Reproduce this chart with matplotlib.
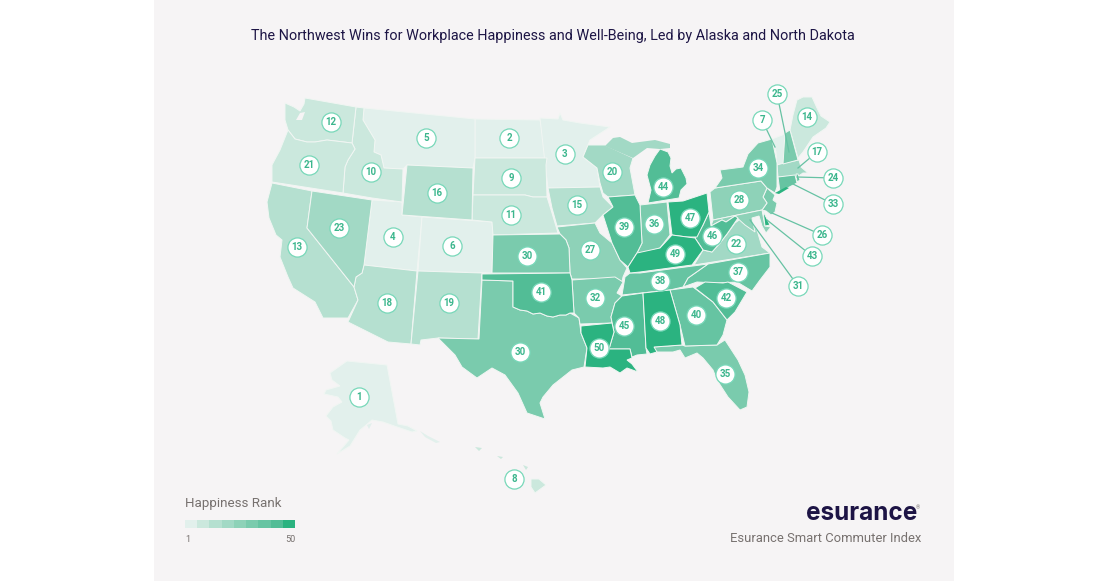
import matplotlib
matplotlib.use("Agg")
import matplotlib.pyplot as plt
from matplotlib.patches import Rectangle, Polygon

plt.rcParams['font.family'] = ['Roboto', 'DejaVu Sans']

TITLE = "The Northwest Wins for Workplace Happiness and Well-Being, Led by Alaska and North Dakota"
states = ["AK","ND","MN","UT","MT","CO","VT","HI","SD","ID","NE","WA","CA","ME","IA","WY","MA","AZ","NM","WI","OR","VA","NV","RI","NH","NJ","MO","PA","KS","TX","MD","AR","CT","NY","FL","IN","NC","TN","IL","GA","OK","SC","DE","MI","MS","WV","OH","AL","KY","LA"]
ranks  = [1,2,3,4,5,6,7,8,9,10,11,12,13,14,15,16,17,18,19,20,21,22,23,24,25,26,27,28,30,30,31,32,33,34,35,36,37,38,39,40,41,42,43,44,45,46,47,48,49,50]
levels = [0,0,0,0,0,0,0,1,1,1,1,1,2,1,2,2,3,2,2,3,1,3,3,6,5,5,4,4,5,5,4,5,6,5,5,5,6,6,7,6,7,7,8,7,7,7,8,8,8,8]
scale_colors = ["#e2f0ec","#cbe8dd","#b5e0d0","#a2d9c5","#8ed2b8","#7acbad","#66c4a2","#52bd96","#2bb380"]
PANEL = "#f6f4f5"

red_river = [(513,307),(520,310),(527,311),(533,314),(540,313),(547,316),(553,317),(560,315),(566,315),(570,313)]
outlines = {
"WA":[(285,103),(294,107),(300,111),(304,104),(305,98),(356,107),(352,143),(327,140),(315,142),(307,142),(295,139),(288,130),(285,120)],
"OR":[(288,130),(295,139),(307,142),(315,142),(327,140),(352,143),(355,149),(348,160),(345,167),(343,193),(272,182),(272,165),(280,150)],
"ID":[(356,107),(364,108),(363,120),(375,140),(374,152),(381,155),(384,168),(403,169),(402,202),(372,198),(343,193),(345,167),(348,160),(355,149),(352,143)],
"MT":[(364,108),(475,119),(475,158),(473,168),(407,165),(403,169),(384,168),(381,155),(374,152),(375,140),(363,120)],
"WY":[(407,165),(473,168),(472,220),(402,215)],
"ND":[(475,119),(540,120),(547,158),(475,158)],
"SD":[(475,158),(547,158),(546,165),(547,197),(533,197),(525,195),(473,195)],
"NE":[(473,195),(525,195),(533,197),(547,197),(552,213),(558,233),(493,235),(492,222),(472,220)],
"UT":[(372,200),(402,202),(402,215),(422,217),(417,271),(364,265)],
"CO":[(422,217),(492,222),(493,235),(492,273),(418,271)],
"NV":[(312,191),(372,200),(364,265),(362,273),(356,277),(354,287),(307,228)],
"CA":[(272,183),(312,191),(307,228),(354,287),(358,300),(348,318),(323,318),(315,302),(293,288),(288,277),(280,257),(282,240),(276,235),(269,218),(267,202)],
"AZ":[(364,265),(417,271),(411,344),(388,342),(348,322),(358,300),(354,287),(356,277),(362,273)],
"NM":[(418,271),(482,273),(478,339),(438,338),(421,340),(420,345),(411,344)],
"TX":[(482,280),(513,281)]+red_river+[(579,318),(581,333),(587,348),(584,367),(572,370),(553,385),(543,397),(540,403),(545,419),(527,413),(518,393),(505,375),(492,368),(477,378),(462,367),(455,355),(438,338),(479,339)],
"OK":[(482,274),(570,273),(572,280),(574,313)]+red_river[::-1]+[(513,281),(482,280)],
"KS":[(493,235),(560,234),(566,240),(569,248),(570,273),(492,273)],
"MO":[(557,227),(595,223),(600,233),(612,243),(620,260),(627,268),(623,277),(622,282),(617,279),(572,279),(570,273),(569,248),(566,240),(560,234)],
"IA":[(548,188),(600,187),(603,197),(613,207),(603,215),(595,223),(557,226),(552,208)],
"MN":[(540,118),(558,119),(560,113),(563,120),(580,123),(610,127),(590,140),(583,157),(597,168),(600,187),(548,188),(545,163)],
"WI":[(583,157),(588,145),(605,145),(633,158),(630,168),(635,195),(608,197),(603,193),(600,183),(597,168)],
"MI":[(660,149),(668,152),(671,158),(670,166),(672,173),(676,169),(681,168),(686,178),(687,184),(681,190),(679,198),(648,203),(651,190),(647,175),(650,165),(655,156)],
"IL":[(608,197),(635,195),(640,205),(642,243),(637,253),(628,267),(620,260),(612,243),(603,215),(613,207)],
"IN":[(640,205),(667,202),(670,235),(660,248),(640,254),(637,253),(642,243)],
"OH":[(668,202),(683,201),(707,193),(709,212),(703,225),(697,237),(687,237),(672,235)],
"KY":[(672,235),(687,237),(695,238),(703,250),(692,265),(640,272),(630,273),(628,267),(637,253),(660,248)],
"WV":[(709,212),(711,226),(722,220),(726,222),(735,216),(738,218),(727,234),(720,243),(712,252),(703,250),(695,238),(703,225)],
"PA":[(710,192),(715,188),(761,181),(767,188),(763,197),(767,203),(762,210),(713,220)],
"NY":[(715,188),(722,178),(720,170),(743,167),(748,154),(758,143),(772,139),(777,163),(777,187),(775,193),(767,188),(761,181)],
"VT":[(772,139),(785,134),(784,163),(777,165),(776,152)],
"NH":[(785,133),(790,130),(798,160),(783,164)],
"ME":[(790,130),(793,115),(797,100),(803,97),(812,97),(817,108),(821,116),(830,122),(826,128),(813,137),(803,152),(798,158)],
"MA":[(777,165),(784,163),(799,160),(801,167),(808,173),(803,173),(797,177),(778,177)],
"CT":[(778,177),(795,175),(797,183),(780,192)],
"RI":[(796,174),(798,174),(800,180),(797,182)],
"NJ":[(767,188),(775,195),(773,200),(777,203),(775,212),(771,215),(766,211),(762,210),(767,203),(763,197)],
"DE":[(763,211),(766,217),(770,225),(765,226)],
"MD":[(713,220),(762,210),(765,226),(771,227),(766,233),(762,226),(759,216),(752,218),(755,232),(745,225),(735,216),(726,222),(722,220),(711,226)],
"VA":[(694,265),(770,253),(762,247),(757,230),(750,220),(743,217),(735,223),(727,234),(720,243),(712,252),(703,250)],
"NC":[(708,264),(770,253),(770,267),(760,280),(752,291),(737,282),(717,283),(697,282),(683,287),(688,278)],
"TN":[(640,273),(708,264),(688,278),(683,287),(670,290),(622,295),(625,277),(630,273)],
"SC":[(695,288),(705,282),(723,283),(728,282),(747,292),(735,312),(727,320),(713,302)],
"GA":[(670,290),(693,287),(713,302),(727,320),(723,335),(717,345),(685,346),(680,325)],
"FL":[(654,347),(682,345),(685,346),(717,345),(725,340),(738,360),(745,375),(749,392),(747,407),(740,410),(728,397),(717,380),(713,370),(703,358),(697,353),(685,358),(680,350),(673,352),(657,352),(648,353)],
"AL":[(643,293),(670,290),(680,325),(682,345),(654,347),(657,352),(650,354),(646,348)],
"MS":[(622,296),(643,293),(646,348),(647,354),(637,355),(632,357),(630,349),(609,349),(614,332),(611,317),(615,303)],
"LA":[(581,326),(612,323),(614,332),(609,349),(630,349),(632,358),(627,360),(632,364),(638,372),(627,368),(620,373),(610,367),(603,368),(585,367),(587,348),(581,333)],
"AR":[(572,280),(615,277),(623,282),(617,293),(622,296),(615,303),(611,317),(612,323),(580,324),(579,318),(574,313)],
"AK":[(347,361),(387,365),(398,424),(408,426),(417,431),(412,432),(400,428),(383,422),(372,420),(365,426),(360,430),(350,446),(337,454),(349,440),(345,438),(333,430),(331,421),(326,416),(333,407),(342,402),(338,397),(324,394),(326,390),(340,386),(332,380),(330,373)],
"HI":[(531,479),(539,479),(546,485),(535,493),(531,487)],
}
# Extra parts drawn in the shade the picture gives them.
extra_parts = [
    ([(605,146),(613,138),(620,137),(632,143),(655,140),(670,144),(670,148),(660,149),(647,148),(633,158)], 3),
    ([(775,193),(786,187),(789,188),(779,194)], 8),
    ([(367,425),(372,423),(369,429)], 0),
    ([(420,431),(428,436),(440,442),(436,443),(425,437)], 0),
    ([(523,465),(528,467),(526,470)], 1),
    ([(497,456),(503,457),(501,459)], 1),
    ([(475,447),(482,448),(479,451)], 1),
]
puget = [(300,113),(305,112),(302,120),(296,120)]

label_pos = {"AK":(359,397),"ND":(509,138),"MN":(565,154),"UT":(393,237),"MT":(426,138),"CO":(452,246),"VT":(762,120),"HI":(514,479),"SD":(511,178),"ID":(371,172),"NE":(511,215),"WA":(331,122),"CA":(297,247),"ME":(807,117),"IA":(577,205),"WY":(437,193),"MA":(817,152),"AZ":(387,303),"NM":(449,303),"WI":(612,172),"OR":(309,165),"VA":(736,244),"NV":(339,228),"RI":(833,178),"NH":(777,94),"NJ":(822,235),"MO":(590,250),"PA":(739,200),"KS":(527,256),"TX":(520,352),"MD":(798,286),"AR":(595,298),"CT":(833,204),"NY":(758,168),"FL":(725,374),"IN":(654,224),"NC":(738,272),"TN":(660,281),"IL":(624,227),"GA":(696,315),"OK":(541,292),"SC":(726,298),"DE":(812,256),"MI":(663,187),"MS":(624,326),"WV":(712,236),"OH":(690,218),"AL":(660,321),"KY":(675,254),"LA":(599,348)}
leader_end = {"VT":(775,147),"MA":(798,168),"RI":(797,177),"NH":(789,152),"NJ":(772,213),"MD":(750,220),"CT":(785,180),"DE":(767,220)}

fig = plt.figure(figsize=(11.08,5.81), dpi=100, facecolor="white")
ax = fig.add_axes([0,0,1,1])
ax.set_xlim(0,1108); ax.set_ylim(581,0); ax.axis("off")
ax.add_patch(Rectangle((154,0),800,581,fc=PANEL,ec="none",zorder=0))

shade = dict(zip(states, levels))
for st in states:
    ax.add_patch(Polygon(outlines[st], closed=True, fc=scale_colors[shade[st]], ec="#f1f6f3", lw=0.7, zorder=2))
for pts, lev in extra_parts:
    ax.add_patch(Polygon(pts, closed=True, fc=scale_colors[lev], ec="none", zorder=2))
ax.add_patch(Polygon(puget, closed=True, fc=PANEL, ec="none", zorder=2.5))

for st, end in leader_end.items():
    x0,y0 = label_pos[st]
    ax.plot([x0,end[0]],[y0,end[1]], color="#66c2a3", lw=0.9, zorder=3)
for st, r in zip(states, ranks):
    x,y = label_pos[st]
    ax.scatter([x],[y], s=190, fc="white", ec="#78d8b9", lw=0.9, zorder=4)
    ax.text(x,y+0.3,str(r), ha="center", va="center", fontsize=7, fontweight="bold", color="#3cb68d", zorder=5)

ax.text(553,36,TITLE,ha="center",va="center",fontsize=10.36,color="#1d1545")
ax.text(185,503.5,"Happiness Rank",ha="left",va="center",fontsize=9.6,color="#77716f")
bw = 110/len(scale_colors)
for i,c in enumerate(scale_colors):
    ax.add_patch(Rectangle((185+i*bw,520),bw,8,fc=c,ec="none",zorder=2))
ax.text(185,540,"1",ha="left",va="center",fontsize=6.6,color="#77716f")
ax.text(296,540,"50",ha="right",va="center",fontsize=6.6,color="#77716f")
ax.text(917,514,"esurance",ha="right",va="center",fontsize=17.5,fontweight="bold",family=["Inter","DejaVu Sans"],color="#1d1445")
ax.text(920,508,"®",ha="right",va="center",fontsize=4,color="#77716f")
ax.text(921,538.5,"Esurance Smart Commuter Index",ha="right",va="center",fontsize=9.35,color="#77716f")
fig.savefig("out.png",dpi=100)
